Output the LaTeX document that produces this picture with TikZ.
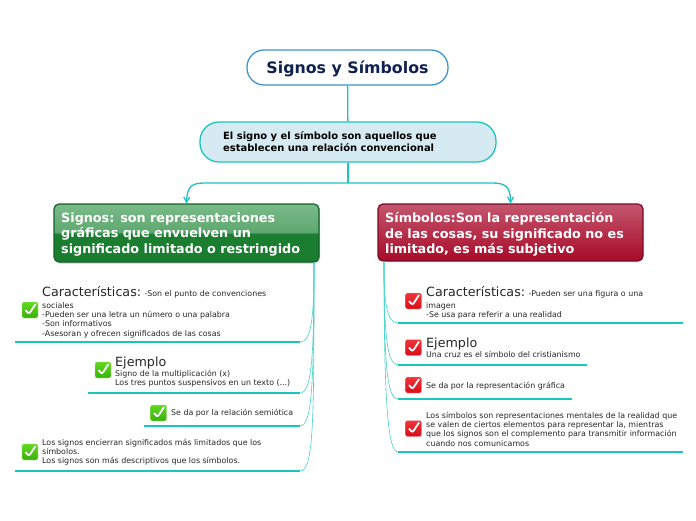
\documentclass[tikz,border=0pt]{standalone}
\usepackage{fontspec}
\setmainfont{DejaVu Sans}
\usetikzlibrary{arrows,positioning,shadows}
\definecolor{tealline}{HTML}{1CC4BE}
\definecolor{rootblue}{HTML}{3F94D2}
\definecolor{navy}{HTML}{0E2150}
\definecolor{subfill}{HTML}{D5EAF1}
\definecolor{greenline}{HTML}{14602A}
\definecolor{redline}{HTML}{780A20}
\definecolor{gbot}{HTML}{1A7D30}
\definecolor{gmid}{HTML}{5FA870}
\definecolor{gtop}{HTML}{7ABA8A}
\definecolor{rbot}{HTML}{A80A28}
\definecolor{rtop}{HTML}{C4566E}
\definecolor{ticktopg}{HTML}{62D820}
\definecolor{tickbotg}{HTML}{38B008}
\definecolor{ticktopr}{HTML}{F0343A}
\definecolor{tickbotr}{HTML}{D80C18}
\pgfdeclareverticalshading{greenfill}{100bp}{color(0bp)=(gbot);color(25bp)=(gbot);color(49bp)=(gbot);color(51bp)=(gmid);color(75bp)=(gtop);color(100bp)=(gtop)}
\tikzstyle{link}=[draw=tealline,line width=1.3pt]
\tikzstyle{post}=[link,->,>=angle 60]
\tikzstyle{branch}=[draw=tealline!80,line width=0.6pt]
\tikzstyle{rule}=[draw=tealline,line width=1.8pt]
\tikzstyle{item}=[anchor=north west,inner sep=0pt,align=left,font=\fontsize{7.9}{9.2}\selectfont,text=black!85]
\tikzstyle{tick}=[inner sep=0pt,minimum size=16pt,rounded corners=2pt,path picture={
    \draw[white,line width=1.8pt] ([shift={(-4.5pt,0pt)}]path picture bounding box.center)
      -- ([shift={(-1pt,-4pt)}]path picture bounding box.center)
      -- ([shift={(5.5pt,6pt)}]path picture bounding box.center);}]
\tikzstyle{tickgreen}=[tick,draw=ticktopg!50,top color=ticktopg,bottom color=tickbotg]
\tikzstyle{tickred}=[tick,draw=ticktopr!40,top color=ticktopr,bottom color=tickbotr]
\newcommand{\bigw}[1]{{\fontsize{12.7}{13}\selectfont #1}}
\begin{document}
\begin{tikzpicture}[x=1pt,y=-1pt]
        \useasboundingbox (0,0) rectangle (696,520);
        \node (A) at (347.5,67.5) [draw=rootblue,line width=1.3pt,rounded corners=17pt,minimum width=201pt,minimum height=35pt,inner sep=0pt,text=navy,text depth=1.5pt,font=\fontsize{15.8}{18}\selectfont\bfseries] {Signos y Símbolos};
        \node (B) at (348,142) [draw=tealline,fill=subfill,line width=1.3pt,rounded corners=19pt,minimum width=296pt,minimum height=40pt,inner sep=0pt] {};
        \node (Bt) at (223,131.5) [item,font=\fontsize{9.95}{12}\selectfont\bfseries,text=black] {El signo y el símbolo son aquellos que\\establecen una relación convencional};
        \node (C) at (186.5,233) [draw=greenline,line width=1.2pt,rounded corners=5pt,minimum width=265pt,minimum height=58pt,inner sep=0pt,shading=greenfill,drop shadow={shadow xshift=1pt,shadow yshift=-1.5pt,opacity=0.4}] {};
        \node (Ct) at (61,212.5) [item,font=\fontsize{12.75}{15.5}\selectfont\bfseries,text=white] {Signos: son representaciones\\gráficas que envuelven un\\significado limitado o restringido};
        \node (D) at (510.5,232.5) [draw=redline,line width=1.2pt,rounded corners=5pt,minimum width=265pt,minimum height=57pt,inner sep=0pt,top color=rtop,bottom color=rbot] {};
        \node (Dt) at (385,212.5) [item,font=\fontsize{12.75}{15.5}\selectfont\bfseries,text=white] {Símbolos:Son la representación\\de las cosas, su significado no es\\limitado, es más subjetivo};
        \coordinate (fork) at (348,183);

        \path[link] (A) -- (B);
        \path[link] (B) -- (fork);
        \path[post] (fork) -- (205,183) .. controls (192,183) and (187,186) .. (C.north);
        \path[post] (fork) -- (492,183) .. controls (505,183) and (510.5,186) .. (D.north);

        % signos
        \node (C1i) at (30,310) [tickgreen] {};
        \node (C1) at (42,286.5) [item] {\bigw{Características:} -Son el punto de convenciones\\[2.5pt]sociales\\-Pueden ser una letra un número o una palabra\\-Son informativos\\-Asesoran y ofrecen significados de las cosas};
        \node (C2i) at (103,370) [tickgreen] {};
        \node (C2) at (115,357) [item] {\bigw{Ejemplo}\\Signo de la multiplicación (x)\\Los tres puntos suspensivos en un texto (...)};
        \node (C3i) at (158.5,413) [tickgreen] {};
        \node (C3) at (171,409) [item] {Se da por la relación semiótica};
        \node (C4i) at (30,452) [tickgreen] {};
        \node (C4) at (42,439) [item] {Los signos encierran significados más limitados que los\\símbolos.\\Los signos son más descriptivos que los símbolos.};
        \coordinate (c1a) at (15,342); \coordinate (c1b) at (300,342);
        \coordinate (c2a) at (88,393); \coordinate (c2b) at (300,393);
        \coordinate (c3a) at (144,426); \coordinate (c3b) at (300,426);
        \coordinate (c4a) at (15,471); \coordinate (c4b) at (300,471);
        \path[rule] (c1a) -- (c1b);
        \path[rule] (c2a) -- (c2b);
        \path[rule] (c3a) -- (c3b);
        \path[rule] (c4a) -- (c4b);
        \coordinate (Cs) at (314,262);
        \path[branch] (Cs) .. controls (314,315) and (312,342) .. (c1b);
        \path[branch] (Cs) .. controls (314,355) and (312,393) .. (c2b);
        \path[branch] (Cs) .. controls (314,385) and (312,426) .. (c3b);
        \path[branch] (Cs) .. controls (314,420) and (314,471) .. (c4b);

        % simbolos
        \node (D1i) at (413.5,301) [tickred] {};
        \node (D1) at (426,286.5) [item] {\bigw{Características:} -Pueden ser una figura o una\\[2.5pt]imagen\\-Se usa para referir a una realidad};
        \node (D2i) at (413.5,347.5) [tickred] {};
        \node (D2) at (426,338) [item] {\bigw{Ejemplo}\\Una cruz es el símbolo del cristianismo};
        \node (D3i) at (413.5,385) [tickred] {};
        \node (D3) at (426,382) [item] {Se da por la representación gráfica};
        \node (D4i) at (413.5,428.5) [tickred] {};
        \node (D4) at (426,412) [item] {Los símbolos son representaciones mentales de la realidad que\\se valen de ciertos elementos para representar la, mientras\\que los signos son el complemento para transmitir información\\cuando nos comunicamos};
        \coordinate (d1a) at (398,323); \coordinate (d1b) at (683,323);
        \coordinate (d2a) at (398,365); \coordinate (d2b) at (587,365);
        \coordinate (d3a) at (398,399); \coordinate (d3b) at (572,399);
        \coordinate (d4a) at (398,452); \coordinate (d4b) at (683,452);
        \path[rule] (d1a) -- (d1b);
        \path[rule] (d2a) -- (d2b);
        \path[rule] (d3a) -- (d3b);
        \path[rule] (d4a) -- (d4b);
        \coordinate (Ds) at (384,261);
        \path[branch] (Ds) .. controls (384,300) and (386,323) .. (d1a);
        \path[branch] (Ds) .. controls (384,335) and (387,365) .. (d2a);
        \path[branch] (Ds) .. controls (384,365) and (387,399) .. (d3a);
        \path[branch] (Ds) .. controls (384,405) and (388,452) .. (d4a);
    \end{tikzpicture}
\end{document}
